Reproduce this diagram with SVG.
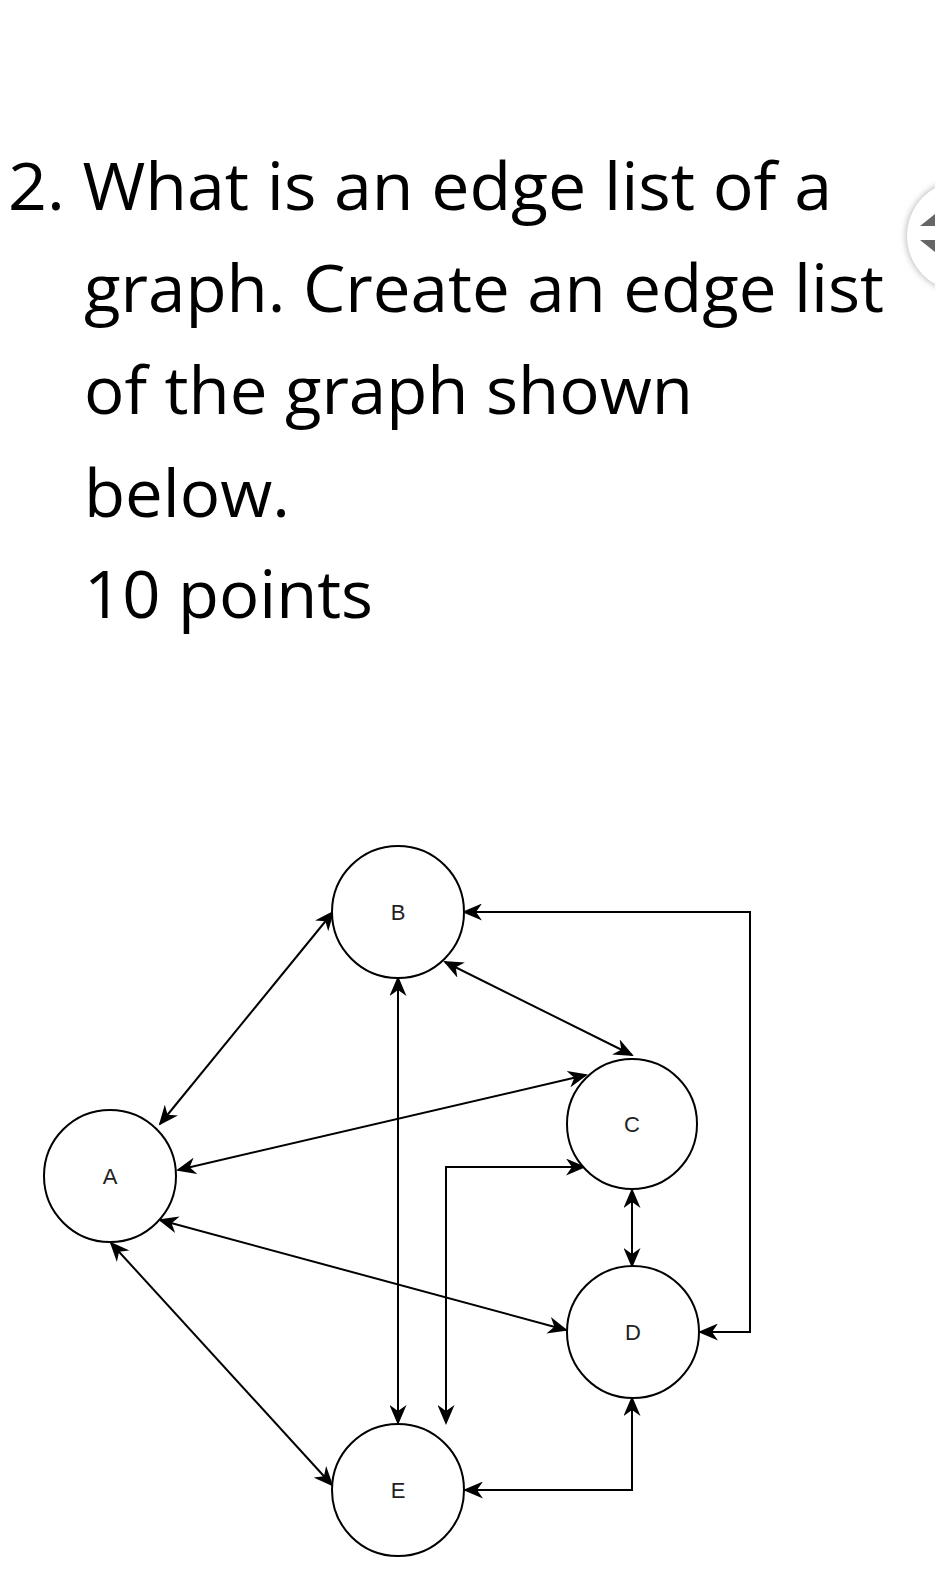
<svg xmlns="http://www.w3.org/2000/svg" width="935" height="1587" viewBox="0 0 935 1587">
<style>
.q{font-family:"Open Sans","Liberation Sans",sans-serif;font-size:66px;fill:#000}
.n circle{fill:#fff;stroke:#000;stroke-width:2}
.n text{font-family:"Liberation Sans",Arial,sans-serif;font-size:22px;fill:#222;text-anchor:middle}
.e path{fill:none;stroke:#000;stroke-width:2;marker-start:url(#a);marker-end:url(#a)}
</style>
<defs>
<marker id="a" viewBox="0 0 10 10" refX="9" refY="5" markerWidth="20" markerHeight="17" markerUnits="userSpaceOnUse" orient="auto-start-reverse" preserveAspectRatio="none"><path d="M0,0 L10,5 L0,10 L3,5 Z" fill="#000"/></marker>
<filter id="sh" x="-30%" y="-30%" width="160%" height="160%"><feGaussianBlur stdDeviation="3"/></filter>
</defs>
<rect width="935" height="1587" fill="#fff"/>
<text class="q" x="818" y="-24">g</text>
<g id="scroll">
<circle cx="962" cy="236" r="56" fill="#bbb" filter="url(#sh)"/>
<circle cx="962" cy="236" r="55" fill="#fff"/>
<path d="M920,226 L935,214 L935,226 Z M920,240 L935,240 L935,252 Z" fill="#666"/>
</g>
<g id="question">
<text class="q" x="8" y="210" textLength="824" lengthAdjust="spacingAndGlyphs">2. What is an edge list of a</text>
<text class="q" x="84" y="312" textLength="800" lengthAdjust="spacingAndGlyphs">graph. Create an edge list</text>
<text class="q" x="84" y="414" textLength="609" lengthAdjust="spacingAndGlyphs">of the graph shown</text>
<text class="q" x="84" y="517" textLength="206" lengthAdjust="spacingAndGlyphs">below.</text>
<text class="q" x="84" y="618" textLength="289" lengthAdjust="spacingAndGlyphs">10 points</text>
</g>
<g id="connectors" class="e">
<path d="M160,1124 L333,912"/>
<path d="M445,962 L632,1055"/>
<path d="M586,1075 L178,1170"/>
<path d="M160,1220 L566,1330"/>
<path d="M111,1243 L332,1485"/>
<path d="M398,978 L398,1423"/>
<path d="M446,1423 L446,1167 L584,1167"/>
<path d="M632,1190 L632,1266"/>
<path d="M700,1332 L750,1332 L750,912 L464,912"/>
<path d="M465,1490 L632,1490 L632,1398"/>
</g>
<g id="B" class="n"><circle cx="398" cy="912" r="66"/><text x="398" y="920">B</text></g>
<g id="C" class="n"><circle cx="632" cy="1124" r="65"/><text x="632" y="1132">C</text></g>
<g id="A" class="n"><circle cx="110" cy="1176" r="66"/><text x="110" y="1184">A</text></g>
<g id="D" class="n"><circle cx="633" cy="1332" r="66"/><text x="633" y="1340">D</text></g>
<g id="E" class="n"><circle cx="398" cy="1490" r="66"/><text x="398" y="1498">E</text></g>
</svg>
